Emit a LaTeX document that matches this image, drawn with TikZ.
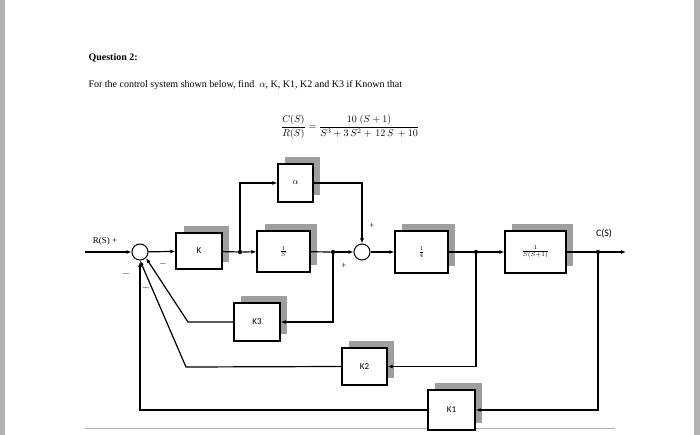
\documentclass[tikz,border=0pt]{standalone}
\usepackage{amsmath}
\usepackage{fontspec}
\setmainfont{Liberation Serif}
\newfontfamily\calfont{Carlito}
\usetikzlibrary{arrows.meta}
\begin{document}
\begin{tikzpicture}[x=1pt,y=-1pt,
 blk/.style={draw,line width=1.3pt,fill=white,minimum width=#1,inner sep=0pt,font=\calfont\small},
 sh/.style={fill=gray!75},
 sum/.style={draw,circle,line width=1pt,minimum size=16pt,inner sep=0pt,fill=white},
 ln/.style={line width=1.2pt},
 ar/.style={ln,-{Latex[length=5pt,width=4pt]}},
 dot/.style={circle,fill,inner sep=1.5pt}]
\useasboundingbox (0,0) rectangle (700,435);
\fill[gray!60] (0,0) rectangle (5,435);
\fill[gray!60] (694,0) rectangle (700,435);
\draw[gray!60] (85,428) -- (615,428);
\node[anchor=west,font=\bfseries] at (85,58) {Question 2:};
\node[anchor=west] at (85,85) {For the control system shown below, find\ \ $\alpha$, K, K1, K2 and K3 if Known that};
\node at (350,127) {$\dfrac{C(S)}{R(S)}=\dfrac{10\;(S+1)}{S^3+3\,S^2+\,12\,S\,+10}$};
% shadows
\fill[sh] (184,226) rectangle (229,262);
\fill[sh] (265,224) rectangle (317,265);
\fill[sh] (285,157) rectangle (320,195);
\fill[sh] (402,224) rectangle (455,266);
\fill[sh] (512,224) rectangle (573,266);
\fill[sh] (241,296) rectangle (287,334);
\fill[sh] (349,341) rectangle (394,378);
\fill[sh] (435,383) rectangle (482,423);
% blocks
\node[blk=46pt,minimum height=36pt] (K) at (199,251) {K};
\node[blk=53pt,minimum height=41pt] (I) at (283.5,251.5) {$\frac{1}{S}$};
\node[blk=35pt,minimum height=38pt] (A) at (295.5,183) {$\alpha$};
\node[blk=53pt,minimum height=42pt] (Q) at (421.5,252) {$\frac{1}{4}$};
\node[blk=61pt,minimum height=42pt] (P) at (535.5,252) {$\frac{1}{S(S+1)}$};
\node[blk=46pt,minimum height=38pt] (K3) at (257,322) {K3};
\node[blk=45pt,minimum height=37pt] (K2) at (364.5,366.5) {K2};
\node[blk=47pt,minimum height=40pt] (K1) at (451.5,410) {K1};
\node[sum] (S1) at (140,252) {};
\node[sum] (S2) at (362,252) {};
\coordinate (in) at (85,252);
\coordinate (out) at (626,252);
\node[dot] (b1) at (240,252) {};
\node[dot] (b2) at (333,252) {};
\node[dot] (b3) at (476,252) {};
\node[dot] (b4) at (598,252) {};
% forward path
\draw[ar] (in) -- (S1);
\draw[ar] (S1) -- (K);
\draw[ln] (K) -- (b1);
\draw[ar] (b1) -- (I);
\draw[ln] (I) -- (b2);
\draw[ar] (b2) -- (S2);
\draw[ar] (S2) -- (Q);
\draw[ln] (Q) -- (b3);
\draw[ar] (b3) -- (P);
\draw[ln] (P) -- (b4);
\draw[ar] (b4) -- (out);
\draw[ar] (b1) |- (A);
\draw[ar] (A.east) -| (S2.north);
% feedback
\draw[ar] (b2) |- (K3.east);
\draw[ar] (K3.west) -- (188,322) -- (S1.south east);
\draw[ar] (b3) |- (K2.east);
\draw[ar] (K2.west) -- (186,367) -- (S1.south);
\draw[ar] (b4) |- (K1.east);
\draw[ar] (K1.west) -- (140,410) -- (140,262);
% labels
\node[font=\small] at (105,241) {R(S) +};
\node[font=\calfont] at (604,234) {C(S)};
\node at (163,264) {$-$};
\node at (126,274) {$-$};
\node at (146,288) {$-$};
\node[font=\small] at (372,226) {+};
\node[font=\small] at (344,266) {+};
\end{tikzpicture}
\end{document}
